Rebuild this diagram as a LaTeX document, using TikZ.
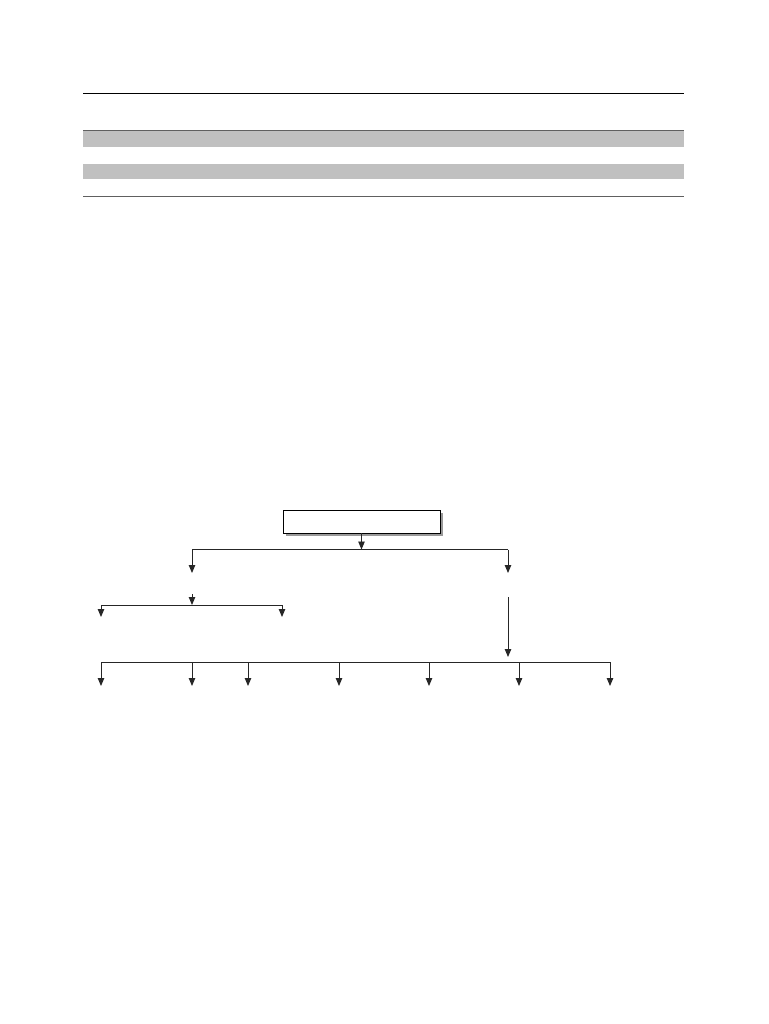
\documentclass[tikz,border=0pt]{standalone}
\usetikzlibrary{arrows.meta,shadows}
\definecolor{band}{HTML}{C0C0C0}
\definecolor{rulegray}{HTML}{606060}
\begin{document}
\begin{tikzpicture}[x=1pt,y=-1pt,
  conn/.style={line width=0.9pt,draw=black!85},
  arr/.style={conn,-{Triangle[length=8pt,width=6.5pt]}},
  rootbox/.style={draw=black,line width=0.9pt,fill=white,minimum width=157pt,minimum height=23pt,inner sep=0pt,
    drop shadow={shadow xshift=2.5pt,shadow yshift=-2.5pt,fill=gray!80,opacity=1}}]
\useasboundingbox (0,0) rectangle (768,1024);
% header rules and bands
\draw[line width=1pt,black] (83,93.5) -- (684,93.5);
\fill[band] (83,130) rectangle (684,147);
\draw[line width=1.2pt,rulegray] (83,130.5) -- (684,130.5);
\fill[band] (83,164) rectangle (684,179.5);
\draw[line width=1.3pt,rulegray] (83,196.5) -- (684,196.5);
% root
\node[rootbox] (root) at (361.5,521.5) {};
% level junctions
\coordinate (j1) at (361.5,549.5);
\coordinate (jl) at (192,549.5);
\coordinate (jr) at (508,549.5);
\coordinate (L) at (192,573);
\coordinate (R) at (508,573);
% left subtree
\coordinate (Ls) at (192,594);
\coordinate (j2) at (192,605);
\coordinate (j2a) at (101,605);
\coordinate (j2b) at (282,605);
\coordinate (LA) at (101,617);
\coordinate (LB) at (282,617);
% right subtree
\coordinate (Rs) at (508,597);
\coordinate (Rt) at (508,657);
\foreach \x [count=\i] in {101,192,248,339,429,519,610} {
  \coordinate (h\i) at (\x,662);
  \coordinate (c\i) at (\x,686);
}
% connectors
\draw[arr] (root.south) -- (j1);
\draw[conn] (jl) -- (jr);
\draw[arr] (jl) -- (L);
\draw[arr] (jr) -- (R);
\draw[arr] (Ls) -- (j2);
\draw[conn] (j2a) -- (j2b);
\draw[arr] (j2a) -- (LA);
\draw[arr] (j2b) -- (LB);
\draw[arr] (Rs) -- (Rt);
\draw[conn] (h1) -- (h7);
\foreach \i in {1,...,7} {\draw[arr] (h\i) -- (c\i);}
\end{tikzpicture}
\end{document}
